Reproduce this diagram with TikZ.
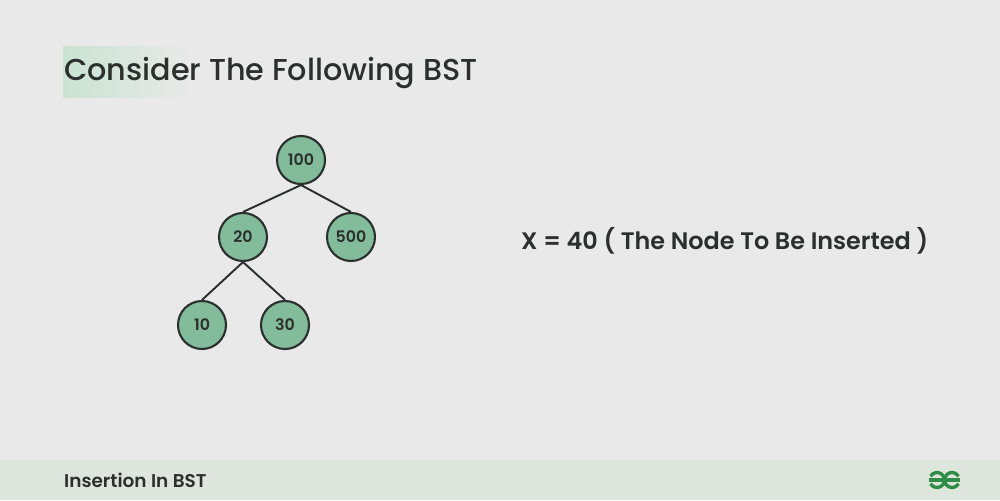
\documentclass[tikz,border=0pt]{standalone}
\usepackage{fontspec}
\setmainfont{Poppins}[BoldFont={Poppins Medium}]
\newfontfamily\semibold{Poppins SemiBold}
\definecolor{bgcol}{HTML}{E9E9E9}
\definecolor{footcol}{HTML}{DDE5DD}
\definecolor{nodefill}{HTML}{83BC9A}
\definecolor{inkcol}{HTML}{2B2F2D}
\definecolor{logocol}{HTML}{2F8D46}
\definecolor{hlcol}{HTML}{C9E3D2}
\tikzset{
  bstnode/.style={circle, draw=inkcol, line width=1.2pt, fill=nodefill,
    minimum size=0.96cm, inner sep=0pt, text=inkcol, font=\fontsize{9}{10}\selectfont\semibold},
  bstedge/.style={draw=inkcol, line width=1.1pt}
}
\begin{document}
\begin{tikzpicture}[x=0.02cm, y=-0.02cm]
  \useasboundingbox (0,0) rectangle (1000,500);
  \fill[bgcol] (0,0) rectangle (1000,500);
  \fill[footcol] (0,460) rectangle (1000,500);
  \shade[left color=hlcol, right color=bgcol] (63,47) rectangle (190,98);

  \node[anchor=west, text=inkcol, font=\fontsize{17.2}{20}\selectfont\bfseries] (title) at (58,73) {Consider The Following BST};
  \node[anchor=west, text=inkcol, font=\fontsize{10.5}{12}\selectfont\semibold] (footer) at (58,480) {Insertion In BST};
  \node[anchor=west, text=inkcol, font=\fontsize{13.6}{15}\selectfont\semibold] (xval) at (515,241) {X = 40 ( The Node To Be Inserted )};

  % tree
  \node[bstnode] (n100) at (301,160) {100};
  \node[bstnode] (n20) at (243,237) {20};
  \node[bstnode] (n500) at (351,237) {500};
  \node[bstnode] (n10) at (202,325) {10};
  \node[bstnode] (n30) at (285,325) {30};
  \draw[bstedge] (n100.south) -- (n20.north);
  \draw[bstedge] (n100.south) -- (n500.north);
  \draw[bstedge] (n20.south) -- (n10.north);
  \draw[bstedge] (n20.south) -- (n30.north);

  % logo
  \begin{scope}[logocol, line width=1.9pt]
    \draw (929,480) -- (960,480);
    \draw (937,480) ++(150:7.5) arc (150:-150:7.5);
    \draw (952,480) ++(30:7.5) arc (30:330:7.5);
  \end{scope}
\end{tikzpicture}
\end{document}
